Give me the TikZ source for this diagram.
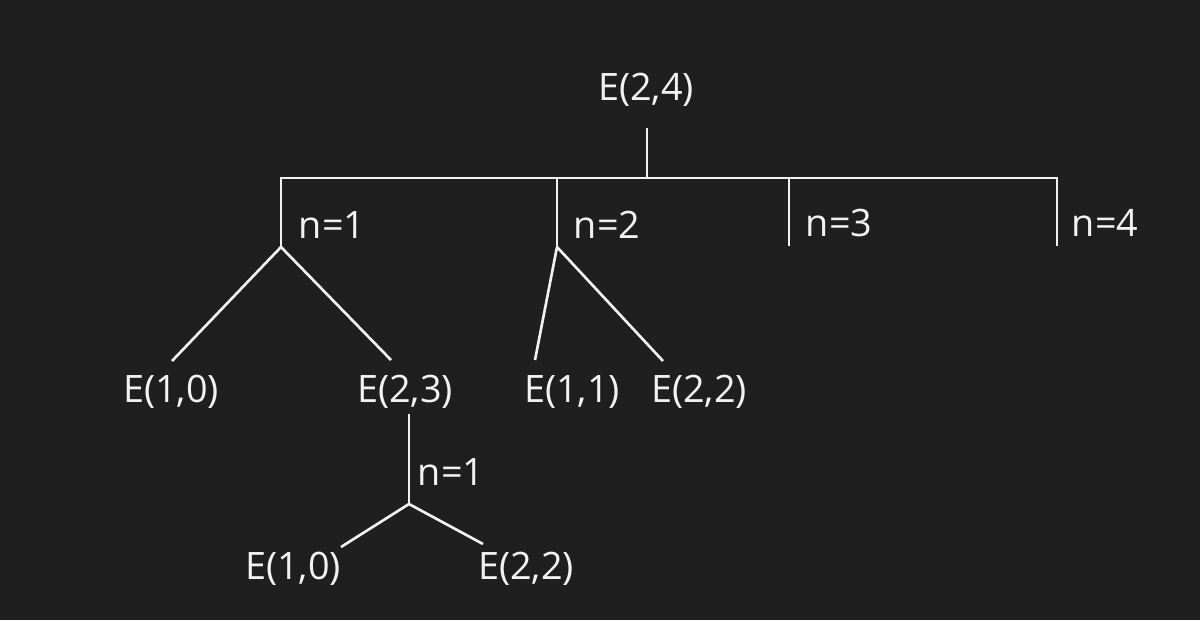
\documentclass[tikz,border=0pt]{standalone}
\usepackage{fontspec}
\setmainfont{Open Sans}
\usetikzlibrary{calc}
\definecolor{bgdark}{HTML}{1F1F1F}
\definecolor{chalk}{HTML}{F2F2F2}
\tikzset{
  term/.style={inner sep=0pt, text height=15.4pt, text depth=0pt, text=chalk},
  case/.style={term},
  wire/.style={draw=chalk, line width=1.5pt},
}
\begin{document}
\begin{tikzpicture}[x=0.02cm, y=-0.02cm, font=\fontsize{21.5}{26}\selectfont]
                \fill [bgdark] (0,0) rectangle (1200,620);%
                \useasboundingbox (0,0) rectangle (1200,620);%

                % Marking root E(2,4)
                \node [term] (e24) at (646,87) {E(2,4)};%
                \coordinate (bar) at (647,178);%

                % Marking branch points
                \coordinate (j1) at (281,247);%
                \coordinate (j2) at (557,247);%
                \coordinate (j3) at (789,246);%
                \coordinate (j4) at (1057,246);%
                \coordinate (j5) at (409,504);%

                % Marking cases n
                \node [case] (n1) at (332,225) {n=1};%
                \node [case] (n2) at (607,225) {n=2};%
                \node [case] (n3) at (839,223) {n=3};%
                \node [case] (n4) at (1105,223) {n=4};%
                \node [case] (n1b) at (451,472) {n=1};%

                % Marking subproblems
                \node [term] (e10) at (171,389) {E(1,0)};%
                \node [term] (e23) at (405,389) {E(2,3)};%
                \node [term] (e11) at (572,389) {E(1,1)};%
                \node [term] (e22) at (699,389) {E(2,2)};%
                \node [term] (e10b) at (293,566) {E(1,0)};%
                \node [term] (e22b) at (526,566) {E(2,2)};%

                % Drawing bar under E(2,4)
                \draw [wire] ($(e24)+(1,41)$) -- (bar);%
                \draw [wire] (j1) -- (j1 |- bar) -- (j4 |- bar) -- (j4);%
                \draw [wire] (j2 |- bar) -- (j2);%
                \draw [wire] (j3 |- bar) -- (j3);%

                % Drawing legs of n=1 and n=2
                \draw [wire] (j1) -- ($(e10)+(1,-28)$);%
                \draw [wire] (j1) -- ($(e23)+(-14,-29)$);%
                \draw [wire] (j2) -- ($(e11)+(-37,-29)$);%
                \draw [wire] (j2) -- ($(e22)+(-36,-28)$);%

                % Drawing E(2,3) down to n=1
                \draw [wire] ($(e23)+(4,25)$) -- (j5);%
                \draw [wire] (j5) -- ($(e10b)+(48,-19)$);%
                \draw [wire] (j5) -- ($(e22b)+(-43,-22)$);%
\end{tikzpicture}
\end{document}
